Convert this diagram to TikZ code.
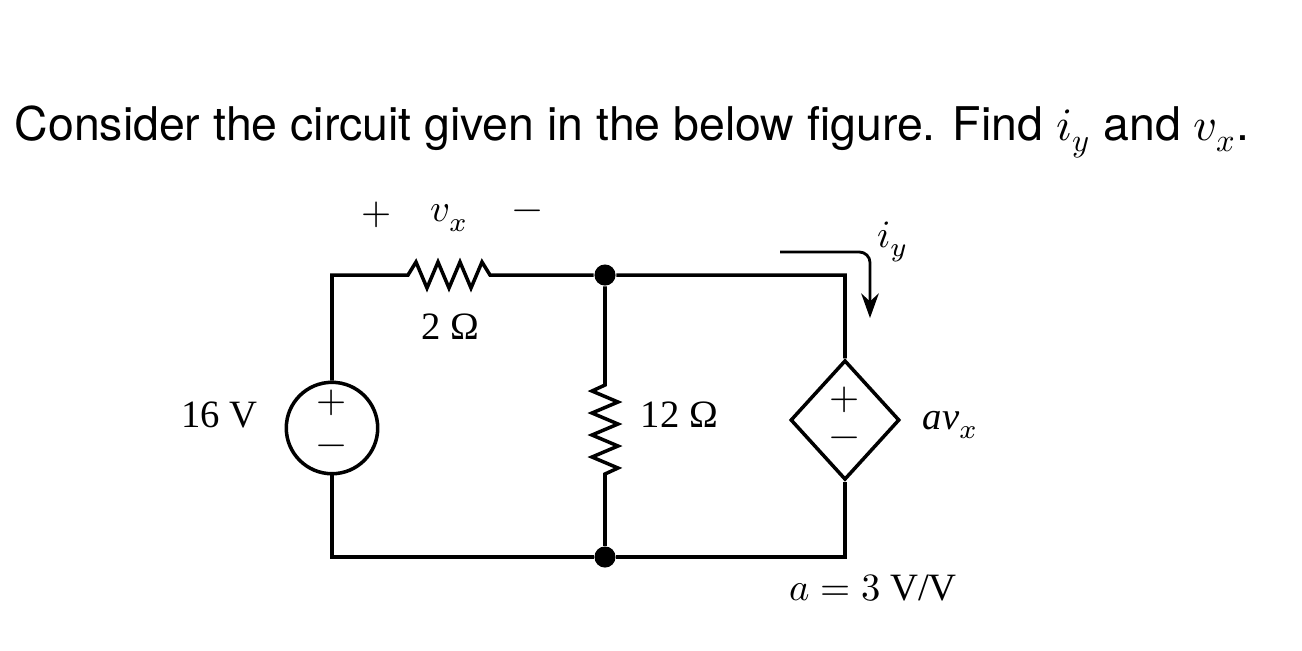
\documentclass[tikz,border=0pt]{standalone}
\usepackage{fontspec}
\setmainfont{Liberation Serif}
\newfontfamily\titlefont{TeX Gyre Heros}
\usepackage{unicode-math}
\setmathfont{Latin Modern Math}
\usetikzlibrary{arrows.meta,shapes.geometric}
\begin{document}
\begin{tikzpicture}[x=0.01cm,y=-0.01cm,
  w/.style={line width=1pt},
  lbl/.style={font=\fontsize{11}{13}\selectfont, inner sep=0pt},
  dot/.style={circle,fill=black,minimum size=6pt,inner sep=0pt}]
\useasboundingbox (0,0) rectangle (1302,650);
\node[anchor=west,inner sep=0pt,font=\titlefont\fontsize{13.2}{15}\selectfont] (title) at (14,132) {Consider the circuit given in the below figure. Find $i_y$ and $v_x$.};
% nodes
\coordinate (tl) at (332,275); \coordinate (bl) at (332,557);
\node[dot] (tm) at (605,275) {}; \node[dot] (bm) at (605,557) {};
\coordinate (tr) at (845,275); \coordinate (br) at (845,557);
\node[circle,draw,w,inner sep=0pt,minimum size=26pt] (src) at (332,428) {};
\node[draw,w,diamond,minimum width=31pt,minimum height=34pt,inner sep=0pt] (dep) at (845,420) {};
% wires
\draw[w] (src.north) -- (tl) -- (408,275) -- (416,262) -- (427,288) -- (438,262) -- (449,288) -- (460,262) -- (471,288) -- (482,262) -- (490,275) -- (tm) -- (tr) -- (dep.north);
\draw[w] (src.south) -- (bl) -- (bm) -- (br) -- (dep.south);
\draw[w] (tm) -- (605,385) -- (592,391) -- (618,402) -- (592,413) -- (618,424) -- (592,435) -- (618,446) -- (592,457) -- (618,468) -- (605,474) -- (bm);
% signs
\node[lbl] (sp) at (332,403) {$+$};
\node[lbl] (sm) at (332,450) {$-$};
\node[lbl] (dp) at (845,400) {$+$};
\node[lbl] (dm) at (845,442) {$-$};
% labels
\node[lbl,anchor=east] (l16) at (258,415) {16 V};
\node[lbl] (l2) at (450,327) {2 Ω};
\node[lbl,anchor=west] (l12) at (640,415) {12 Ω};
\node[lbl,anchor=west] (lav) at (922,425) {$\mathit{av}_x$};
\node[lbl] (la) at (873,588) {$a = 3$ V/V};
\node[lbl] (vp) at (377,215) {$+$};
\node[lbl] (vx) at (450,218) {$v_x$};
\node[lbl] (vm) at (528,215) {$-$};
\node[lbl] (iy) at (893,242) {$i_y$};
\coordinate (a0) at (780,252); \coordinate (a1) at (870,252); \coordinate (a2) at (870,318);
\draw[line width=0.8pt,-{Stealth[length=7pt,width=5pt]},rounded corners=3pt] (a0) -- (a1) -- (a2);
\end{tikzpicture}
\end{document}
